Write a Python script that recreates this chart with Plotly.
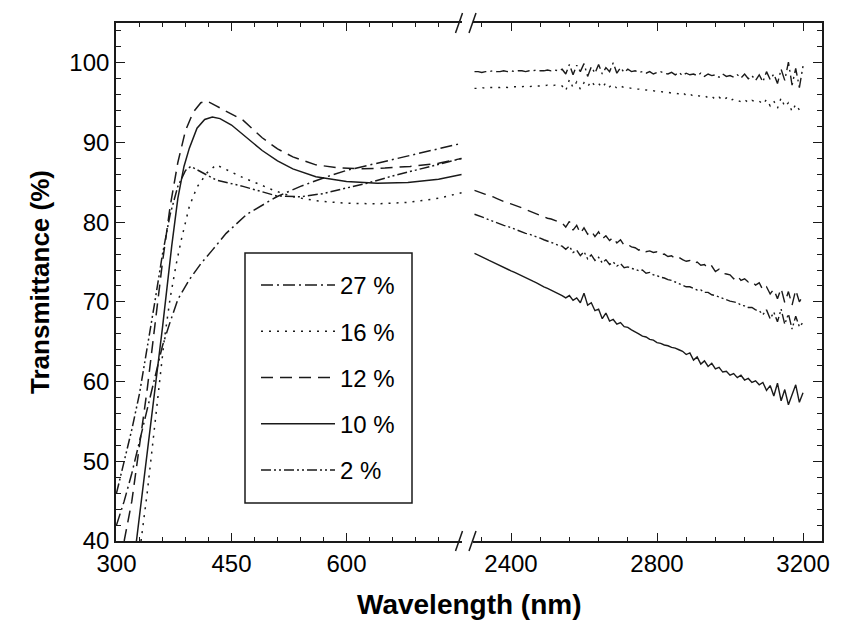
import plotly.graph_objects as go

# ---------------- data: visible region (nm, %T) ----------------
vis_27_x = [300, 310, 320, 330, 340, 350, 360, 370, 380, 395, 410, 425, 443, 470, 509, 540, 574, 600, 631, 660, 690, 720, 750]
vis_27_y = [42.0, 45.0, 48.5, 52.5, 56.5, 60.5, 64.5, 67.5, 70.3, 72.8, 74.8, 76.5, 78.6, 81.0, 83.2, 84.5, 85.7, 86.5, 87.2, 87.8, 88.5, 89.2, 89.9]

vis_16_x = [332, 340, 347, 355, 362, 370, 378, 385, 395, 405, 418, 430, 445, 465, 483, 505, 530, 560, 596, 640, 680, 720, 750]
vis_16_y = [40.0, 46.0, 52.0, 59.0, 65.0, 70.5, 74.8, 78.0, 82.0, 84.4, 86.2, 87.2, 86.5, 85.6, 84.9, 84.0, 83.2, 82.7, 82.4, 82.3, 82.5, 83.0, 83.7]

vis_12_x = [310, 320, 330, 340, 350, 360, 370, 380, 390, 400, 410, 418, 430, 450, 465, 490, 510, 530, 560, 592, 620, 650, 683, 720, 750]
vis_12_y = [40.0, 45.0, 52.0, 59.0, 67.0, 75.0, 82.0, 87.5, 91.5, 93.8, 95.0, 95.2, 94.6, 93.6, 92.8, 90.6, 89.2, 88.2, 87.2, 86.8, 86.7, 86.8, 87.0, 87.4, 88.0]

vis_10_x = [326, 338, 350, 360, 372, 380, 388, 395, 405, 415, 425, 435, 450, 470, 490, 510, 530, 560, 600, 640, 680, 720, 750]
vis_10_y = [40.0, 49.3, 58.9, 66.8, 77.0, 83.0, 87.0, 89.3, 91.8, 92.9, 93.2, 93.0, 92.2, 90.6, 89.0, 87.7, 86.7, 85.7, 85.1, 84.9, 85.0, 85.4, 86.0]

vis_2_x = [300, 310, 320, 330, 340, 350, 360, 370, 380, 390, 397, 410, 430, 465, 490, 509, 540, 570, 600, 627, 660, 700, 750]
vis_2_y = [46.0, 50.0, 54.0, 58.5, 64.0, 70.0, 76.0, 81.0, 84.5, 86.5, 87.0, 86.3, 85.3, 84.5, 83.8, 83.3, 83.2, 83.6, 84.3, 84.9, 85.8, 86.8, 88.0]

# ---------------- data: infrared region (nm, %T) ----------------
ir_x = [2300, 2310, 2320, 2330, 2340, 2350, 2360, 2370, 2380, 2390,
        2400, 2410, 2420, 2430, 2440, 2450, 2460, 2470, 2480, 2490,
        2500, 2510, 2520, 2530, 2540, 2550, 2560, 2570, 2580, 2590,
        2600, 2610, 2620, 2630, 2640, 2650, 2660, 2670, 2680, 2690,
        2700, 2710, 2720, 2730, 2740, 2750, 2760, 2770, 2780, 2790,
        2800, 2810, 2820, 2830, 2840, 2850, 2860, 2870, 2880, 2890,
        2900, 2910, 2920, 2930, 2940, 2950, 2960, 2970, 2980, 2990,
        3000, 3010, 3020, 3030, 3040, 3050, 3060, 3070, 3080, 3090,
        3100, 3110, 3120, 3130, 3140, 3150, 3160, 3170, 3180, 3190,
        3200]

ir_27 = [98.9, 98.9, 98.8, 98.9, 98.9, 99.0, 98.9, 98.9, 99.0, 98.9,
         99.0, 98.9, 99.0, 99.0, 98.9, 99.0, 99.0, 99.1, 99.0, 99.0,
         99.1, 99.0, 99.1, 99.0, 99.2,
         98.6, 99.8, 98.5, 99.7, 98.9, 99.9, 98.3, 99.5, 98.7, 99.8,
         98.6, 99.4, 98.9, 100.0, 98.7, 99.4, 98.8, 99.2,
         98.9, 99.0, 98.8, 98.9, 98.7, 98.9, 98.6, 98.8, 98.9, 98.7,
         98.6, 98.8, 98.5, 98.8, 98.4, 98.7, 98.5, 98.6, 98.4, 98.7,
         98.3, 98.6, 98.4, 98.5, 98.2, 98.6, 98.3, 98.4, 98.2, 98.5,
         98.1, 98.6, 98.0, 98.4, 97.8, 98.5,
         97.6, 98.9, 97.9, 98.6, 97.4, 99.2, 97.8, 100.1, 97.2, 99.3,
         96.9, 99.6]

ir_16 = [96.8, 96.8, 96.9, 96.8, 96.9, 96.9, 96.9, 96.9, 97.0, 96.9,
         97.0, 97.0, 97.0, 97.0, 97.1, 97.0, 97.1, 97.1, 97.1, 97.1,
         97.2, 97.1, 97.2, 97.2, 97.1,
         96.5, 97.9, 96.9, 97.6, 96.7, 97.5, 97.0, 97.7, 97.1, 97.4,
         96.9, 97.5, 97.0, 97.3, 96.8, 97.1, 96.9, 96.9,
         96.8, 96.7, 96.7, 96.6, 96.6, 96.5, 96.5, 96.4, 96.4, 96.3,
         96.3, 96.2, 96.2, 96.1, 96.3, 95.9, 96.1, 95.8, 95.9, 95.8,
         95.9, 95.6, 95.8, 95.4, 95.7, 95.3, 95.6, 95.2, 95.5, 95.3,
         95.1, 95.4, 95.0, 95.3, 95.1, 95.2,
         94.8, 95.4, 94.6, 95.2, 94.3, 95.6, 94.5, 95.0, 93.9, 94.8,
         94.1, 94.4]

ir_12 = [84.0, 83.8, 83.6, 83.5, 83.3, 83.2, 83.0, 82.8, 82.6, 82.4,
         82.3, 82.1, 81.9, 81.8, 81.6, 81.4, 81.2, 81.1, 80.9, 80.7,
         80.5, 80.4, 80.2, 80.0, 79.9,
         79.4, 80.1, 79.0, 79.6, 78.6, 79.3, 78.5, 78.9, 78.2, 78.8,
         77.9, 78.3, 77.7, 78.1, 77.4, 77.8, 77.1, 77.2,
         76.9, 76.8, 76.5, 76.7, 76.3, 76.4, 76.2, 76.3, 75.9, 76.0,
         75.7, 75.8, 75.4, 75.6, 75.3, 75.1, 75.2, 74.8, 75.0, 74.6,
         74.7, 74.2, 74.5, 73.8, 74.1, 73.6, 73.5, 73.4, 72.9, 73.3,
         72.7, 72.9, 72.5, 72.6, 72.1, 72.4,
         71.5, 71.9, 71.0, 71.6, 70.4, 71.7, 69.9, 71.3, 69.6, 71.5,
         70.0, 70.8]

ir_10 = [76.1, 75.9, 75.6, 75.4, 75.2, 75.0, 74.8, 74.6, 74.3, 74.1,
         73.9, 73.7, 73.5, 73.2, 73.0, 72.8, 72.6, 72.4, 72.1, 71.9,
         71.7, 71.5, 71.3, 71.0, 70.8,
         70.5, 70.8, 70.2, 70.5, 69.9, 71.1, 69.6, 69.9, 68.9, 69.1,
         67.9, 68.6, 67.6, 67.8, 67.2, 67.4, 66.9, 66.8,
         66.5, 66.3, 66.0, 65.7, 65.6, 65.3, 65.2, 64.9, 64.8, 64.6,
         64.5, 64.3, 64.2, 64.0, 63.8, 63.4, 63.6, 62.7, 63.1, 62.2,
         62.6, 61.9, 62.3, 61.6, 61.8, 61.2, 61.3, 60.8, 61.0, 60.5,
         60.8, 60.2, 60.4, 59.9, 60.1, 59.6,
         59.9, 58.9, 59.5, 58.2, 59.8, 57.6, 59.0, 57.1, 58.5, 59.6,
         57.4, 58.6]

ir_2 = [81.0, 80.8, 80.7, 80.5, 80.3, 80.1, 80.0, 79.8, 79.6, 79.5,
        79.3, 79.1, 79.0, 78.8, 78.6, 78.5, 78.3, 78.1, 78.0, 77.8,
        77.6, 77.5, 77.3, 77.1, 77.0,
        76.6, 77.0, 76.2, 76.5, 75.8, 76.3, 75.4, 75.9, 75.2, 75.6,
        74.9, 75.3, 74.7, 75.0, 74.5, 74.8, 74.3, 74.4,
        74.2, 74.1, 73.9, 74.0, 73.6, 73.7, 73.4, 73.3, 73.1, 73.0,
        72.8, 72.7, 72.5, 72.3, 72.2, 71.9, 71.9, 71.7, 71.5, 71.5,
        71.2, 71.2, 70.9, 70.8, 70.6, 70.5, 70.3, 70.1, 70.0, 69.9,
        69.6, 69.5, 69.3, 69.3, 69.0, 68.9,
        68.4, 69.0, 67.9, 68.7, 67.5, 69.1, 67.2, 68.5, 66.6, 68.2,
        66.9, 67.4]

labels = ["27 %", "16 %", "12 %", "10 %", "2 %"]
x_ticks_vis = [300, 450, 600]
x_ticks_ir = [2400, 2800, 3200]
y_ticks = [40, 50, 60, 70, 80, 90, 100]

# ---------------- styling ----------------
FONT = "Liberation Sans, Arial, sans-serif"
INK = "#1a1a1a"
dashes = ["12px,4px,2px,4px", "2px,6px", "12px,7px", "solid", "10px,3px,2px,3px,2px,3px"]

vis_sets = [(vis_27_x, vis_27_y), (vis_16_x, vis_16_y), (vis_12_x, vis_12_y),
            (vis_10_x, vis_10_y), (vis_2_x, vis_2_y)]
ir_sets = [ir_27, ir_16, ir_12, ir_10, ir_2]

fig = go.Figure()
for i, (lab, (vx, vy)) in enumerate(zip(labels, vis_sets)):
    fig.add_trace(go.Scatter(
        x=vx, y=vy, mode="lines", name=lab, legendgroup=lab,
        line=dict(color=INK, width=1.5, dash=dashes[i]),
        xaxis="x", yaxis="y"))
for i, (lab, iy) in enumerate(zip(labels, ir_sets)):
    fig.add_trace(go.Scatter(
        x=ir_x, y=iy, mode="lines", name=lab, legendgroup=lab, showlegend=False,
        line=dict(color=INK, width=1.4, dash=dashes[i]),
        xaxis="x2", yaxis="y2"))

W, H = 854, 637
ML, MR, MT, MB = 116, 32, 23, 96
PW, PH = W - ML - MR, H - MT - MB


def px(xp):
    return (xp - ML) / PW


def py(yp):
    return (H - MB - yp) / PH


left_end = px(462)
right_start = px(473)

tick_font = dict(family=FONT, size=24, color="black")
common_x = dict(showline=True, linecolor=INK, linewidth=1.6, mirror="ticks",
                ticks="inside", ticklen=8, tickwidth=1.4, tickcolor=INK,
                showgrid=False, zeroline=False, tickfont=tick_font)

fig.update_layout(
    width=W, height=H,
    margin=dict(l=ML, r=MR, t=MT, b=MB),
    paper_bgcolor="white", plot_bgcolor="white",
    showlegend=True,
    xaxis=dict(domain=[0, left_end], range=[299.35, 750.6], anchor="y",
               tickmode="array", tickvals=x_ticks_vis,
               minor=dict(dtick=30, tick0=300, ticks="inside", ticklen=4, tickwidth=1.2,
                          tickcolor=INK, showgrid=False),
               **common_x),
    xaxis2=dict(domain=[right_start, 1], range=[2295.9, 3252], anchor="y2",
                tickmode="array", tickvals=x_ticks_ir,
                minor=dict(dtick=80, tick0=2400, ticks="inside", ticklen=4, tickwidth=1.2,
                           tickcolor=INK, showgrid=False),
                **common_x),
    yaxis=dict(range=[40, 105], anchor="x", tickmode="array", tickvals=y_ticks,
               showline=True, linecolor=INK, linewidth=1.6,
               ticks="inside", ticklen=9, tickwidth=1.4, tickcolor=INK,
               minor=dict(dtick=2, tick0=40, ticks="inside", ticklen=5, tickwidth=1.2,
                          tickcolor=INK, showgrid=False),
               showgrid=False, zeroline=False, tickfont=tick_font,
               title=dict(text="<b>Transmittance (%)</b>",
                          font=dict(family=FONT, size=26, color="black"), standoff=12)),
    yaxis2=dict(range=[40, 105], anchor="x2", overlaying="y", side="right",
                showline=True, linecolor=INK, linewidth=1.6,
                ticks="inside", ticklen=9, tickwidth=1.4, tickcolor=INK,
                minor=dict(dtick=2, tick0=40, ticks="inside", ticklen=5, tickwidth=1.2,
                           tickcolor=INK, showgrid=False),
                tickmode="array", tickvals=y_ticks,
                showticklabels=False, showgrid=False, zeroline=False),
    legend=dict(x=px(256), y=py(263), xanchor="left", yanchor="top",
                borderwidth=0, bgcolor="rgba(0,0,0,0)",
                font=dict(family=FONT, size=24, color="black"),
                tracegroupgap=12, itemwidth=74, traceorder="grouped"),
    annotations=[dict(text="<b>Wavelength (nm)</b>", xref="paper", yref="paper",
                      x=0.5, y=py(604), xanchor="center", yanchor="middle",
                      showarrow=False, font=dict(family=FONT, size=28, color="black"))],
)

shapes = []
# legend frame
shapes.append(dict(type="rect", xref="paper", yref="paper", layer="below",
                   x0=px(245), x1=px(412), y0=py(503), y1=py(253),
                   line=dict(color=INK, width=1.5), fillcolor="white"))
# axis-break marks "//" on the bottom and top frame lines
for yc in (23, 541):
    for xc in (459, 472.5):
        shapes.append(dict(type="line", xref="paper", yref="paper",
                           x0=px(xc - 3.5), y0=py(yc + 10), x1=px(xc + 3.5), y1=py(yc - 10),
                           line=dict(color=INK, width=1.5)))
fig.update_layout(shapes=shapes)

fig.write_html("out.html")
